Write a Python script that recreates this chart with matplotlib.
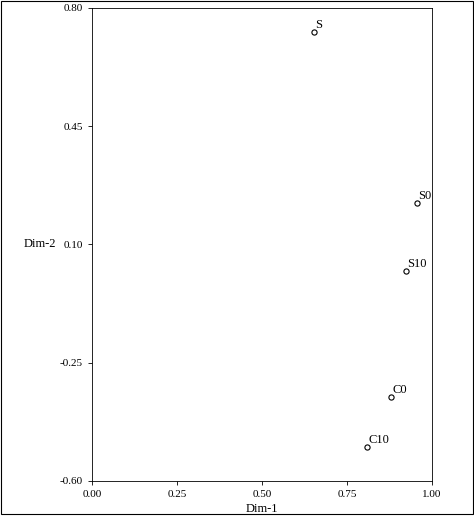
import matplotlib
matplotlib.use("Agg")
import matplotlib.pyplot as plt
from matplotlib.patches import Rectangle

labels = ["S", "S0", "S10", "C0", "C10"]
dim1 = [0.653, 0.956, 0.924, 0.879, 0.809]
dim2 = [0.729, 0.223, 0.022, -0.351, -0.499]

plt.rcParams['font.family'] = ['Liberation Serif', 'DejaVu Serif']

fig = plt.figure(figsize=(4.74, 5.30), dpi=100)
ax = fig.add_axes([0.194, 0.0925, 0.717, 0.8925])

ax.scatter(dim1, dim2, s=14, facecolors='white', edgecolors='black', linewidths=0.8, zorder=3)
for lab, x, y in zip(labels, dim1, dim2):
    ax.annotate(lab, (x, y), xytext=(1, 3), textcoords='offset points', fontsize=9)

ax.set_xlim(0, 1)
ax.set_ylim(-0.6, 0.8)
ax.set_xticks([0, 0.25, 0.5, 0.75, 1.0])
ax.set_xticklabels(["0.00", "0.25", "0.50", "0.75", "1.00"])
ax.set_yticks([-0.6, -0.25, 0.1, 0.45, 0.8])
ax.set_yticklabels(["-0.60", "-0.25", "0.10", "0.45", "0.80"])
ax.tick_params(labelsize=8, length=3, width=0.6)
for sp in ax.spines.values():
    sp.set_linewidth(0.6)

ax.set_xlabel("Dim-1", fontsize=9, labelpad=3)
ax.set_ylabel("Dim-2", fontsize=9, rotation=0, labelpad=14, va='center')

fig.patches.append(Rectangle((0.002, 0.03), 0.996, 0.968, transform=fig.transFigure,
                             fill=False, edgecolor='black', linewidth=0.8))

fig.savefig("out.png", dpi=100)
